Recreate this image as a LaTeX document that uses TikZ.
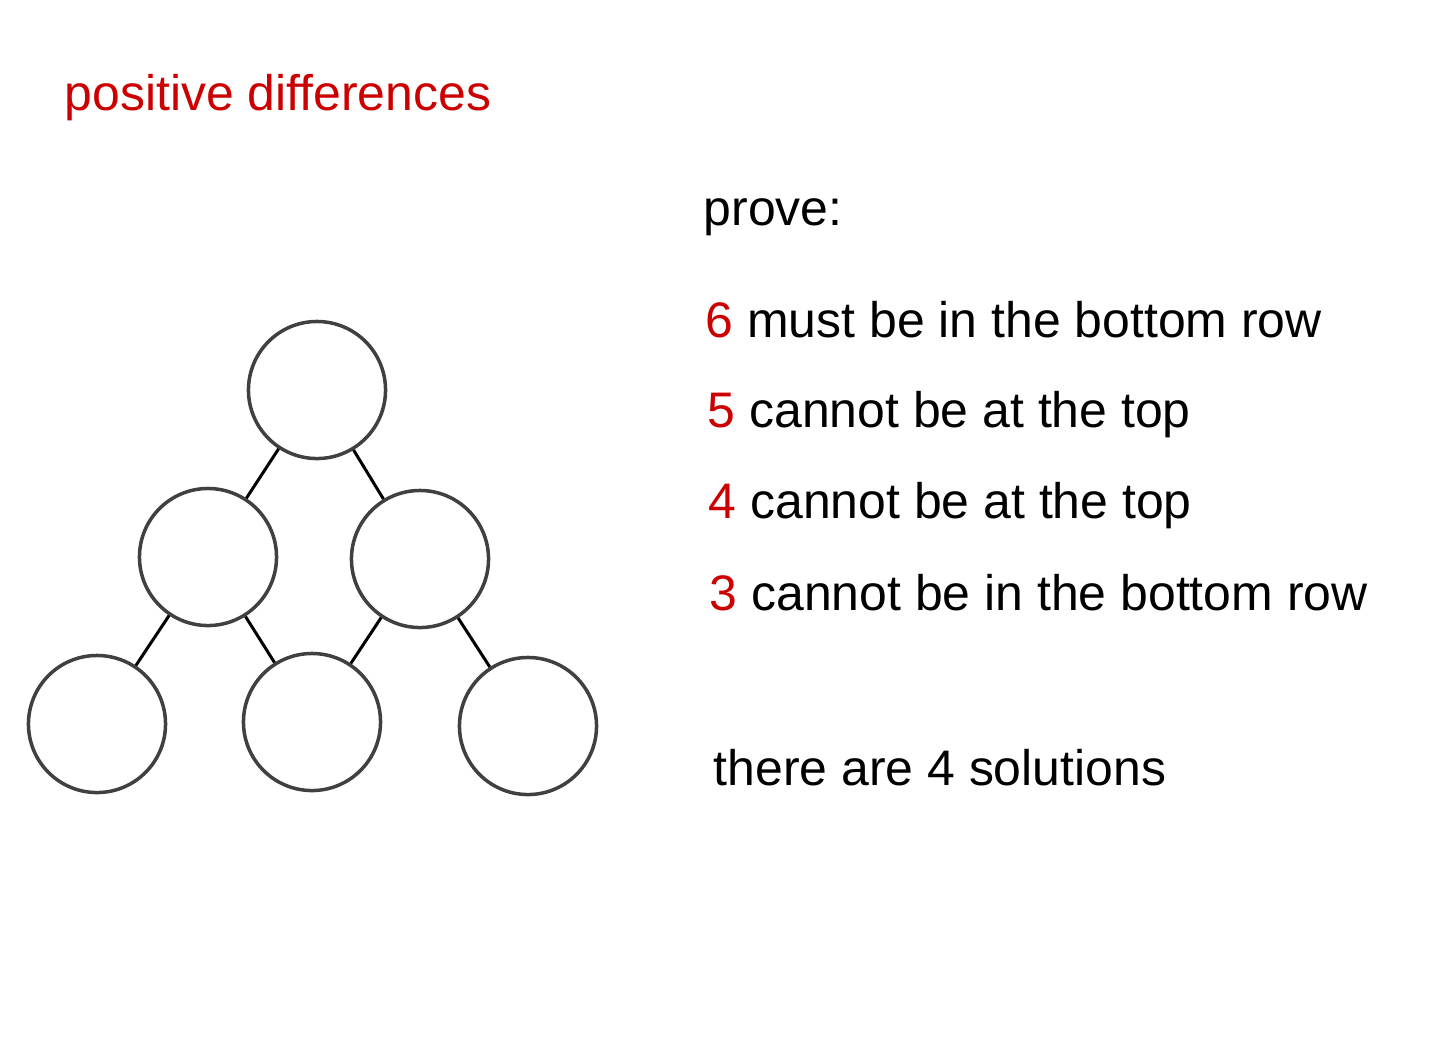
\documentclass[tikz,border=0pt]{standalone}
\usepackage{fontspec}
\setmainfont{Liberation Sans}
\definecolor{hired}{RGB}{204,0,0}
\definecolor{ringgray}{RGB}{64,64,64}

\begin{document}
\begin{tikzpicture}[x=0.01cm, y=-0.01cm,
        ball/.style={circle, draw=ringgray, line width=0.035cm, minimum size=1.37cm, inner sep=0pt},
        link/.style={black, line width=0.03cm},
        txt/.style={anchor=base west, inner sep=0pt, font=\fontsize{14.2}{17}\selectfont}]
        \useasboundingbox (0,0) rectangle (1450,1062);

        \node[txt, text=hired] (title) at (64,110) {positive differences};

        \node[ball] (top) at (317,390) {};
        \node[ball] (midl) at (208,557) {};
        \node[ball] (midr) at (420,559) {};
        \node[ball] (botl) at (97,724) {};
        \node[ball] (botm) at (312,722) {};
        \node[ball] (botr) at (528,726) {};

        \draw[link] (top) -- (midl);
        \draw[link] (top) -- (midr);
        \draw[link] (midl) -- (botl);
        \draw[link] (midl) -- (botm);
        \draw[link] (midr) -- (botm);
        \draw[link] (midr) -- (botr);

        \node[txt] (prove) at (703,225) {prove:};
        \node[txt] (six) at (705,337) {\textcolor{hired}{6} must be in the bottom row};
        \node[txt] (five) at (707,427) {\textcolor{hired}{5} cannot be at the top};
        \node[txt] (four) at (708,518) {\textcolor{hired}{4} cannot be at the top};
        \node[txt] (three) at (709,610) {\textcolor{hired}{3} cannot be in the bottom row};
        \node[txt] (count) at (713,785) {there are 4 solutions};
    \end{tikzpicture}
\end{document}
